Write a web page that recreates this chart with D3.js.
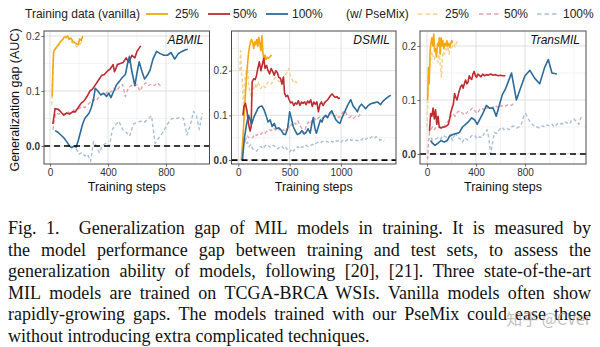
<!DOCTYPE html>
<html>
<head>
<meta charset="utf-8">
<script src="https://cdn.jsdelivr.net/npm/d3@7"></script>
<style>
  html, body { margin: 0; padding: 0; background: #fff; }
  svg { display: block; }
</style>
</head>
<body>
<svg id="fig" width="600" height="347"></svg>
<script>
// ---------------- data: [training step, generalization gap (AUC)] ----------------
const abmilVanilla25 = [[15,0.09],[20,0.14],[25,0.172],[35,0.176],[48,0.181],[60,0.184],[72,0.19],[85,0.193],[98,0.198],[110,0.197],[122,0.2],[132,0.194],[145,0.196],[158,0.19],[170,0.188],[182,0.186],[195,0.184],[205,0.195],[215,0.192],[226,0.2]];
const abmilVanilla50 = [[20,0.04],[35,0.068],[55,0.067],[75,0.062],[95,0.056],[115,0.06],[135,0.058],[155,0.062],[175,0.062],[195,0.07],[215,0.078],[235,0.082],[255,0.09],[275,0.1],[295,0.104],[315,0.112],[335,0.12],[355,0.128],[375,0.13],[395,0.136],[415,0.14],[435,0.148],[445,0.135],[465,0.148],[485,0.15],[505,0.152],[525,0.16],[545,0.152],[565,0.165],[585,0.16],[600,0.172],[615,0.178],[625,0.182]];
const abmilVanilla100 = [[35,0.028],[55,0.025],[75,0.02],[95,0.015],[115,0.008],[135,0.0],[150,-0.003],[165,0.0],[180,-0.002],[195,0.01],[210,0.025],[225,0.04],[240,0.05],[255,0.055],[270,0.06],[285,0.07],[300,0.085],[312,0.105],[330,0.1],[350,0.093],[370,0.096],[390,0.09],[405,0.096],[420,0.088],[440,0.1],[460,0.112],[480,0.118],[500,0.125],[520,0.13],[535,0.15],[548,0.163],[565,0.135],[585,0.11],[605,0.14],[615,0.153],[635,0.135],[652,0.122],[670,0.128],[690,0.138],[710,0.158],[735,0.172],[760,0.168],[785,0.165],[810,0.165],[835,0.17],[860,0.158],[885,0.168],[910,0.172],[935,0.175],[950,0.176]];
const abmilPseMix25 = [[12,0.075],[18,0.12],[24,0.165],[32,0.175],[45,0.178],[58,0.186],[70,0.188],[82,0.192],[95,0.195],[108,0.2],[120,0.193],[133,0.197],[146,0.19],[160,0.186],[172,0.183],[185,0.18],[198,0.182],[210,0.186],[220,0.19]];
const abmilPseMix50 = [[20,0.03],[40,0.06],[60,0.058],[80,0.06],[100,0.058],[120,0.062],[140,0.06],[160,0.065],[180,0.065],[200,0.068],[220,0.072],[240,0.07],[260,0.075],[280,0.08],[300,0.085],[320,0.082],[340,0.09],[360,0.095],[380,0.093],[400,0.1],[420,0.098],[440,0.105],[460,0.1],[480,0.108],[500,0.112],[520,0.09],[540,0.105],[560,0.11],[580,0.108],[600,0.112],[620,0.1],[640,0.11],[660,0.115],[680,0.11],[700,0.113],[720,0.11],[740,0.115],[760,0.11],[780,0.112]];
const abmilPseMix100 = [[180,-0.005],[200,-0.015],[220,-0.012],[240,-0.018],[260,-0.015],[280,-0.028],[300,0.008],[320,0.0],[340,-0.012],[360,0.0],[385,0.005],[410,0.0],[430,0.03],[450,0.038],[475,0.045],[500,0.03],[525,0.025],[550,0.018],[575,0.04],[600,0.043],[625,0.045],[650,0.043],[680,0.05],[700,0.055],[725,0.005],[750,0.015],[780,0.025],[810,0.04],[840,0.05],[870,0.05],[900,0.052],[920,0.05],[945,0.02],[970,0.04],[990,0.063],[1010,0.055],[1030,0.03],[1050,0.06]];

const dsmilVanilla25 = [[30,0.0],[45,0.05],[60,0.11],[75,0.17],[90,0.215],[100,0.24],[110,0.255],[120,0.265],[130,0.27],[140,0.262],[150,0.25],[160,0.265],[170,0.258],[180,0.27],[190,0.255],[200,0.275],[210,0.26],[220,0.245],[230,0.278],[240,0.24],[250,0.22],[260,0.235],[270,0.225],[280,0.23],[295,0.228],[310,0.232],[325,0.235]];
const dsmilVanilla50 = [[45,0.1],[55,0.12],[70,0.127],[85,0.11],[100,0.08],[115,0.065],[125,0.075],[135,0.175],[150,0.182],[165,0.18],[178,0.19],[190,0.205],[205,0.22],[220,0.2],[235,0.215],[248,0.228],[260,0.205],[275,0.212],[290,0.2],[305,0.193],[320,0.205],[335,0.198],[350,0.19],[365,0.2],[380,0.196],[395,0.185],[410,0.183],[425,0.17],[440,0.186],[450,0.15],[465,0.142],[480,0.145],[495,0.135],[510,0.128],[525,0.13],[540,0.122],[555,0.128],[570,0.125],[585,0.133],[600,0.122],[615,0.13],[630,0.127],[645,0.13],[660,0.124],[675,0.132],[690,0.128],[705,0.135],[720,0.12],[735,0.13],[750,0.125],[765,0.13],[780,0.108],[795,0.125],[810,0.13],[825,0.122],[840,0.128],[855,0.132],[870,0.135],[885,0.14],[900,0.145],[915,0.148],[930,0.143],[945,0.14],[960,0.142],[975,0.138],[990,0.139]];
const dsmilVanilla100 = [[40,0.0],[60,0.05],[80,0.08],[100,0.1],[115,0.09],[130,0.08],[150,0.095],[170,0.105],[190,0.115],[210,0.12],[230,0.121],[250,0.113],[270,0.1],[290,0.085],[310,0.09],[330,0.075],[350,0.082],[370,0.07],[395,0.072],[420,0.066],[440,0.058],[460,0.057],[480,0.07],[500,0.108],[515,0.095],[535,0.075],[555,0.065],[575,0.057],[600,0.06],[620,0.066],[640,0.058],[660,0.062],[680,0.07],[700,0.06],[715,0.08],[730,0.095],[745,0.072],[760,0.06],[780,0.075],[800,0.09],[815,0.085],[830,0.095],[850,0.1],[870,0.095],[890,0.105],[910,0.11],[930,0.1],[950,0.09],[970,0.085],[990,0.082],[1010,0.095],[1030,0.105],[1050,0.115],[1070,0.125],[1095,0.135],[1120,0.12],[1140,0.115],[1160,0.108],[1180,0.12],[1200,0.125],[1220,0.12],[1240,0.115],[1265,0.122],[1290,0.126],[1320,0.128],[1355,0.13],[1385,0.124],[1410,0.132],[1440,0.138],[1470,0.143],[1485,0.145]];
const dsmilPseMix25 = [[15,0.2],[22,0.245],[30,0.2],[40,0.17],[50,0.12],[60,0.17],[70,0.19],[80,0.2],[90,0.21],[100,0.17],[115,0.15],[130,0.14],[145,0.155],[160,0.17],[175,0.16],[190,0.175],[205,0.168],[220,0.16],[240,0.168],[260,0.162],[280,0.172],[300,0.175],[320,0.17],[340,0.178],[360,0.185],[380,0.18],[400,0.175],[420,0.18],[440,0.185],[460,0.19],[475,0.198],[490,0.205],[505,0.19],[520,0.182],[540,0.172],[560,0.175],[575,0.172]];
const dsmilPseMix50 = [[40,0.0],[55,0.05],[70,0.045],[85,0.055],[100,0.05],[120,0.052],[140,0.05],[160,0.058],[180,0.055],[200,0.06],[220,0.058],[240,0.063],[260,0.06],[280,0.065],[300,0.068],[320,0.066],[340,0.072],[360,0.068],[380,0.065],[400,0.07],[420,0.064],[440,0.068],[460,0.062],[480,0.078],[500,0.072],[520,0.08],[540,0.085],[560,0.08],[580,0.088],[600,0.078],[620,0.07],[640,0.06],[660,0.075],[680,0.085],[700,0.08],[720,0.09],[740,0.094],[760,0.088],[780,0.095],[800,0.097],[820,0.092],[840,0.1],[860,0.096],[880,0.1],[900,0.105],[920,0.1],[940,0.098],[960,0.102],[980,0.095],[1000,0.1],[1020,0.108],[1040,0.11],[1060,0.1],[1080,0.095],[1100,0.098],[1120,0.093],[1140,0.097],[1160,0.095],[1180,0.1],[1200,0.108]];
const dsmilPseMix100 = [[40,0.0],[50,0.04],[60,0.05],[75,0.035],[90,0.04],[105,0.03],[120,0.035],[140,0.025],[160,0.022],[180,0.02],[200,0.028],[220,0.03],[240,0.025],[260,0.032],[280,0.035],[300,0.03],[320,0.028],[340,0.033],[360,0.03],[380,0.025],[400,0.028],[420,0.032],[440,0.026],[460,0.03],[480,0.022],[500,0.018],[520,0.025],[540,0.02],[560,0.026],[580,0.03],[600,0.025],[620,0.03],[640,0.028],[660,0.033],[680,0.03],[700,0.032],[720,0.035],[740,0.033],[760,0.038],[780,0.04],[800,0.038],[820,0.042],[840,0.04],[860,0.042],[880,0.04],[900,0.043],[920,0.04],[940,0.045],[960,0.042],[980,0.044],[1000,0.04],[1020,0.045],[1040,0.042],[1060,0.045],[1080,0.048],[1100,0.044],[1120,0.046],[1140,0.045],[1160,0.043],[1180,0.047],[1200,0.045],[1220,0.05],[1240,0.046],[1260,0.05],[1280,0.048],[1300,0.052],[1320,0.048],[1340,0.052],[1360,0.05],[1380,0.044],[1400,0.046],[1420,0.042]];

const transVanilla25 = [[5,0.1],[12,0.16],[18,0.13],[25,0.19],[32,0.205],[40,0.215],[48,0.2],[55,0.222],[62,0.19],[70,0.195],[78,0.18],[86,0.205],[94,0.2],[100,0.215],[108,0.185],[115,0.215],[122,0.2],[130,0.21],[138,0.195],[146,0.205],[154,0.2],[162,0.21],[170,0.2],[178,0.205],[186,0.198],[194,0.205],[202,0.21],[210,0.205]];
const transVanilla50 = [[20,0.042],[30,0.075],[40,0.07],[50,0.085],[60,0.065],[70,0.082],[80,0.055],[90,0.07],[100,0.05],[115,0.048],[130,0.05],[145,0.05],[160,0.052],[175,0.055],[185,0.065],[195,0.078],[205,0.085],[215,0.092],[225,0.112],[235,0.105],[245,0.1],[255,0.11],[265,0.118],[275,0.125],[285,0.128],[295,0.122],[305,0.13],[315,0.137],[325,0.13],[335,0.133],[345,0.145],[355,0.14],[365,0.138],[375,0.148],[385,0.153],[395,0.145],[405,0.142],[415,0.148],[425,0.146],[440,0.143],[455,0.148],[470,0.145],[485,0.147],[500,0.146],[520,0.148],[540,0.146],[560,0.147],[580,0.145],[600,0.146],[620,0.145],[640,0.145]];
const transVanilla100 = [[30,0.025],[45,0.02],[65,0.016],[90,0.02],[115,0.025],[140,0.022],[165,0.025],[185,0.033],[210,0.036],[240,0.038],[265,0.04],[290,0.05],[315,0.055],[340,0.06],[365,0.067],[390,0.063],[410,0.055],[435,0.066],[460,0.077],[485,0.09],[510,0.085],[540,0.085],[565,0.07],[590,0.09],[615,0.11],[640,0.12],[665,0.135],[690,0.15],[710,0.125],[730,0.1],[760,0.12],[800,0.145],[840,0.155],[880,0.14],[920,0.13],[960,0.16],[990,0.175],[1020,0.15],[1060,0.148]];
const transPseMix25 = [[0,0.05],[8,0.1],[15,0.14],[22,0.16],[30,0.175],[40,0.19],[50,0.18],[60,0.175],[70,0.185],[80,0.18],[90,0.17],[100,0.19],[110,0.16],[118,0.142],[126,0.18],[134,0.19],[142,0.185],[150,0.195],[160,0.19],[170,0.2],[180,0.185],[190,0.2],[200,0.195],[210,0.2],[220,0.205],[230,0.198],[240,0.205],[250,0.21]];
const transPseMix50 = [[5,-0.01],[12,0.02],[20,0.04],[30,0.045],[45,0.05],[60,0.045],[75,0.05],[90,0.048],[110,0.05],[130,0.048],[150,0.055],[170,0.06],[190,0.068],[210,0.075],[230,0.07],[250,0.078],[270,0.08],[290,0.075],[310,0.072],[330,0.078],[350,0.08],[370,0.085],[390,0.08],[410,0.075],[430,0.082],[450,0.085],[470,0.08],[490,0.085],[510,0.088],[530,0.085],[550,0.09],[570,0.088],[590,0.085],[610,0.09],[630,0.087],[650,0.09],[670,0.092],[690,0.09],[710,0.095]];
const transPseMix100 = [[30,0.03],[50,0.025],[70,0.028],[90,0.03],[110,0.027],[130,0.035],[150,0.032],[170,0.03],[190,0.036],[210,0.025],[230,0.04],[250,0.03],[270,0.028],[290,0.022],[310,0.03],[330,0.026],[350,0.03],[370,0.035],[390,0.034],[410,0.028],[430,0.032],[450,0.03],[470,0.04],[490,0.045],[505,0.03],[520,0.0],[535,0.02],[550,0.04],[570,0.038],[590,0.045],[610,0.05],[630,0.045],[650,0.048],[670,0.045],[690,0.05],[710,0.052],[730,0.048],[750,0.05],[770,0.055],[790,0.07],[805,0.075],[820,0.068],[840,0.06],[860,0.055],[880,0.05],[900,0.05],[920,0.048],[940,0.052],[960,0.05],[980,0.054],[1000,0.052],[1020,0.055],[1040,0.05],[1060,0.055],[1080,0.058],[1100,0.055],[1120,0.06],[1140,0.058],[1160,0.055],[1180,0.062],[1200,0.065],[1220,0.06],[1240,0.055],[1260,0.07]];

const modelNames = ["ABMIL", "DSMIL", "TransMIL"];
const fractionLabels = ["25%", "50%", "100%"];
const xTickValues = [[0, 400, 800], [0, 500, 1000], [0, 400, 800]];
const xMinorValues = [[200, 600, 1000], [250, 750, 1250], [200, 600, 1000, 1200]];
const yTickValues = [0, 0.1, 0.2];
const yMinorValues = [[0.05, 0.15], [0.05, 0.15, 0.25], [0.05, 0.15]];
const legendTitles = ["Training data (vanilla)", "(w/ PseMix)"];
const yAxisTitle = "Generalization gap (AUC)";
const xAxisTitle = "Training steps";

const captionLines = [
  "Fig. 1.  Generalization gap of MIL models in training. It is measured by",
  "the model performance gap between training and test sets, to assess the",
  "generalization ability of models, following [20], [21]. Three state-of-the-art",
  "MIL models are trained on TCGA-BRCA WSIs. Vanilla models often show",
  "rapidly-growing gaps. The models trained with our PseMix could ease these",
  "without introducing extra complicated techniques."
];
const watermark = "知乎 @CVer";

// series per panel, ordered 25% / 50% / 100%
const vanillaSeries = [
  [abmilVanilla25, abmilVanilla50, abmilVanilla100],
  [dsmilVanilla25, dsmilVanilla50, dsmilVanilla100],
  [transVanilla25, transVanilla50, transVanilla100]
];
const pseMixSeries = [
  [abmilPseMix25, abmilPseMix50, abmilPseMix100],
  [dsmilPseMix25, dsmilPseMix50, dsmilPseMix100],
  [transPseMix25, transPseMix50, transPseMix100]
];

// ---------------- styling & layout ----------------
const solidColors = ["#F2A80F", "#BE2B30", "#2C6B9A"];
const dashedColors = ["#F5D08E", "#E3A3A6", "#A8C0D6"];
const sans = "'Liberation Sans', Arial, Helvetica, sans-serif";
const serif = "'Liberation Serif', 'Times New Roman', Times, serif";

const plotTop = 31, plotBottom = 164;
const panels = [
  { left: 44,    right: 209.5, xDomain: [-41.4, 1100],  yDomain: [-0.0327, 0.2091] },
  { left: 231.5, right: 396,   xDomain: [-66.2, 1535.5], yDomain: [-0.0089, 0.2889] },
  { left: 420,   right: 586,   xDomain: [-57.1, 1298],  yDomain: [-0.0185, 0.2278] }
];

const svg = d3.select("#fig");
svg.append("rect").attr("width", 600).attr("height", 347).attr("fill", "#fff");

panels.forEach((p, i) => {
  const x = d3.scaleLinear().domain(p.xDomain).range([p.left, p.right]);
  const y = d3.scaleLinear().domain(p.yDomain).range([plotBottom, plotTop]);
  const g = svg.append("g");

  // clip region for the plotting area
  const clipId = "clip" + i;
  svg.append("clipPath").attr("id", clipId)
    .append("rect").attr("x", p.left).attr("y", plotTop)
    .attr("width", p.right - p.left).attr("height", plotBottom - plotTop);

  // grid: minor then major
  const grid = g.append("g");
  grid.selectAll(".ymin").data(yMinorValues[i]).join("line")
    .attr("x1", p.left).attr("x2", p.right)
    .attr("y1", d => y(d)).attr("y2", d => y(d))
    .attr("stroke", "#EDEDED").attr("stroke-width", 0.6);
  grid.selectAll(".xmin").data(xMinorValues[i].filter(v => x(v) < p.right - 1)).join("line")
    .attr("y1", plotTop).attr("y2", plotBottom)
    .attr("x1", d => x(d)).attr("x2", d => x(d))
    .attr("stroke", "#EDEDED").attr("stroke-width", 0.6);
  grid.selectAll(".ymaj").data(yTickValues).join("line")
    .attr("x1", p.left).attr("x2", p.right)
    .attr("y1", d => y(d)).attr("y2", d => y(d))
    .attr("stroke", "#DDDDDD").attr("stroke-width", 0.9);
  grid.selectAll(".xmaj").data(xTickValues[i]).join("line")
    .attr("y1", plotTop).attr("y2", plotBottom)
    .attr("x1", d => x(d)).attr("x2", d => x(d))
    .attr("stroke", "#DDDDDD").attr("stroke-width", 0.9);

  const line = d3.line().x(d => x(d[0])).y(d => y(d[1])).curve(d3.curveLinear);
  const marks = g.append("g").attr("clip-path", `url(#${clipId})`);

  // PseMix runs (dashed, light) underneath the vanilla runs
  pseMixSeries[i].forEach((s, k) => {
    marks.append("path").datum(s).attr("d", line)
      .attr("fill", "none").attr("stroke", dashedColors[k])
      .attr("stroke-width", 1.4).attr("stroke-dasharray", "3.5,2.5")
      .attr("stroke-linejoin", "round");
  });
  vanillaSeries[i].forEach((s, k) => {
    marks.append("path").datum(s).attr("d", line)
      .attr("fill", "none").attr("stroke", solidColors[k])
      .attr("stroke-width", 1.6).attr("stroke-linejoin", "round");
  });

  // zero reference
  marks.append("line")
    .attr("x1", p.left).attr("x2", p.right)
    .attr("y1", y(0)).attr("y2", y(0))
    .attr("stroke", "#000").attr("stroke-width", 1.7).attr("stroke-dasharray", "6,4");

  // axes
  const xAxis = d3.axisBottom(x).tickValues(xTickValues[i]).tickSize(2.5).tickPadding(2).tickFormat(d3.format("d"));
  const yAxis = d3.axisLeft(y).tickValues(yTickValues).tickSize(2.5).tickPadding(1.5).tickFormat(d3.format(".1f"));
  const ax = g.append("g").attr("transform", `translate(0,${plotBottom})`).call(xAxis);
  const ay = g.append("g").attr("transform", `translate(${p.left},0)`).call(yAxis);
  [ax, ay].forEach(a => {
    a.select(".domain").remove();
    a.selectAll(".tick line").attr("stroke", "#444").attr("stroke-width", 0.8);
    a.selectAll(".tick text").attr("fill", "#333").style("font-family", sans).style("font-size", "10px");
  });
  ay.selectAll(".tick text").style("font-weight", d => d === 0 ? "bold" : "normal");

  // panel frame
  g.append("rect")
    .attr("x", p.left).attr("y", plotTop)
    .attr("width", p.right - p.left).attr("height", plotBottom - plotTop)
    .attr("fill", "none").attr("stroke", "#4a4a4a").attr("stroke-width", 1);

  // model name
  g.append("text").attr("x", p.right - 6).attr("y", 44)
    .attr("text-anchor", "end").attr("fill", "#111")
    .style("font-family", sans).style("font-size", "12px").style("font-style", "italic")
    .text(modelNames[i]);

  // x title
  g.append("text").attr("x", (p.left + p.right) / 2).attr("y", 191)
    .attr("text-anchor", "middle").attr("fill", "#111")
    .style("font-family", sans).style("font-size", "12.5px")
    .text(xAxisTitle);
});

// y title
svg.append("text")
  .attr("transform", "translate(19,100) rotate(-90)")
  .attr("text-anchor", "middle").attr("fill", "#111")
  .style("font-family", sans).style("font-size", "12.5px")
  .text(yAxisTitle);

// ---------------- legend ----------------
const legend = svg.append("g").style("font-family", sans).style("font-size", "12px").attr("fill", "#222");
const legendY = 14;
const legendTitleX = [25, 346];
const legendKeyX = [[146, 208, 266], [418, 479, 537]];
const legendLabelX = [[175, 233, 292], [445, 504, 563]];
const keyLength = 22;
legendTitles.forEach((t, gi) => {
  legend.append("text").attr("x", legendTitleX[gi]).attr("y", legendY + 4.3).text(t);
  fractionLabels.forEach((lab, k) => {
    legend.append("line")
      .attr("x1", legendKeyX[gi][k]).attr("x2", legendKeyX[gi][k] + keyLength)
      .attr("y1", legendY).attr("y2", legendY)
      .attr("stroke", gi === 0 ? solidColors[k] : dashedColors[k])
      .attr("stroke-width", gi === 0 ? 1.8 : 1.6)
      .attr("stroke-dasharray", gi === 0 ? null : "4.5,3");
    legend.append("text").attr("x", legendLabelX[gi][k]).attr("y", legendY + 4.3).text(lab);
  });
});

// ---------------- caption (justified) ----------------
const capLeft = 8, capRight = 591, capFirstBaseline = 234, capLeading = 21.5;
const capGroup = svg.append("g").style("font-family", serif).style("font-size", "18px").attr("fill", "#111");
captionLines.forEach((ln, i) => {
  const yb = capFirstBaseline + i * capLeading;
  if (i === captionLines.length - 1) {
    capGroup.append("text").attr("x", capLeft).attr("y", yb).text(ln);
    return;
  }
  const tokens = ln.split(" ");
  const t = capGroup.append("text").attr("y", yb);
  const spans = tokens.map(w => t.append("tspan").text(w));
  const widths = spans.map(s => (s.text() ? s.node().getComputedTextLength() : 0));
  const total = d3.sum(widths);
  const gaps = tokens.length - 1;
  const gap = (capRight - capLeft - total) / gaps;
  let cx = capLeft;
  spans.forEach((s, k) => {
    s.attr("x", cx);
    cx += widths[k] + gap;
  });
});

// corner watermark, semi-transparent over the caption
svg.append("text").attr("x", 591).attr("y", 325).attr("text-anchor", "end")
  .attr("fill", "#a0a0a0").attr("opacity", 0.65)
  .style("font-family", "'Noto Sans CJK SC', sans-serif").style("font-size", "16px")
  .text(watermark);
</script>
</body>
</html>
